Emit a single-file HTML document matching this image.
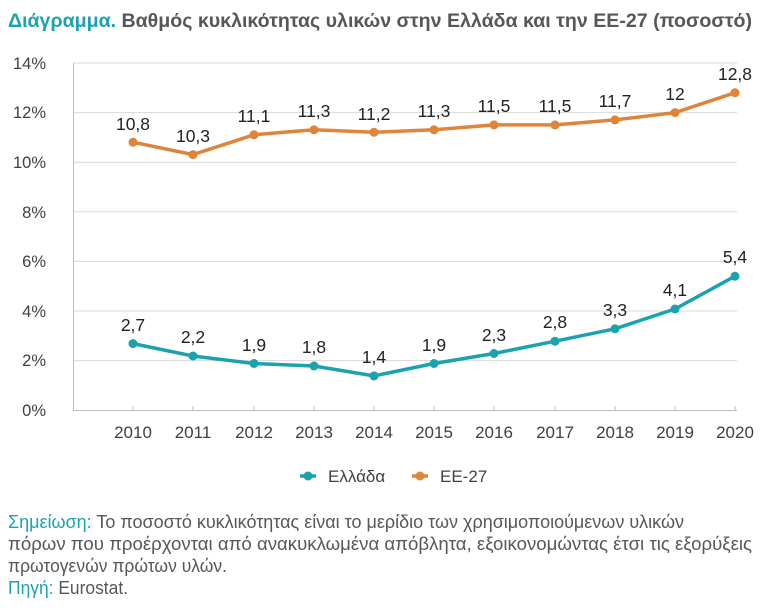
<!DOCTYPE html>
<html><head><meta charset="utf-8"><style>
body{margin:0;width:768px;height:611px;background:#fff;font-family:"Liberation Sans","DejaVu Sans",sans-serif;overflow:hidden}
</style></head><body>
<svg width="768" height="611" xmlns="http://www.w3.org/2000/svg" font-family="Liberation Sans, DejaVu Sans, sans-serif">
<text x="8" y="27" font-size="19" font-weight="bold" fill="#55575a" textLength="744" lengthAdjust="spacingAndGlyphs"><tspan fill="#1ba3af">Διάγραμμα.</tspan> Βαθμός κυκλικότητας υλικών στην Ελλάδα και την ΕΕ-27 (ποσοστό)</text>
<g stroke="#d9d9d9" stroke-width="1">
<line x1="73" y1="63" x2="737" y2="63"/><line x1="73" y1="112.6" x2="737" y2="112.6"/>
<line x1="73" y1="162.2" x2="737" y2="162.2"/><line x1="73" y1="211.8" x2="737" y2="211.8"/>
<line x1="73" y1="261.4" x2="737" y2="261.4"/><line x1="73" y1="311" x2="737" y2="311"/>
<line x1="73" y1="360.6" x2="737" y2="360.6"/>
</g>
<g stroke="#bfbfbf" stroke-width="1"><line x1="73.5" y1="63" x2="73.5" y2="410.5"/><line x1="73" y1="410.5" x2="737" y2="410.5"/>
<line x1="133" y1="406" x2="133" y2="410"/><line x1="193" y1="406" x2="193" y2="410"/><line x1="254" y1="406" x2="254" y2="410"/><line x1="314" y1="406" x2="314" y2="410"/><line x1="374" y1="406" x2="374" y2="410"/><line x1="434" y1="406" x2="434" y2="410"/><line x1="494" y1="406" x2="494" y2="410"/><line x1="555" y1="406" x2="555" y2="410"/><line x1="615" y1="406" x2="615" y2="410"/><line x1="675" y1="406" x2="675" y2="410"/><line x1="735" y1="406" x2="735" y2="410"/></g>
<g font-size="16.5" fill="#404040" text-anchor="end">
<text x="46" y="69">14%</text><text x="46" y="118">12%</text><text x="46" y="168">10%</text><text x="46" y="218">8%</text><text x="46" y="267">6%</text><text x="46" y="317">4%</text><text x="46" y="366">2%</text><text x="46" y="416">0%</text>
</g>
<g font-size="17" fill="#404040" text-anchor="middle">
<text x="133" y="438">2010</text><text x="193" y="438">2011</text><text x="254" y="438">2012</text><text x="314" y="438">2013</text><text x="374" y="438">2014</text><text x="434" y="438">2015</text><text x="494" y="438">2016</text><text x="555" y="438">2017</text><text x="615" y="438">2018</text><text x="675" y="438">2019</text><text x="735" y="438">2020</text>
</g>
<polyline fill="none" stroke="#e0843a" stroke-width="3.5" stroke-linejoin="round" points="133,142.2 193,154.6 254,134.8 314,129.8 374,132.3 434,129.8 494,124.9 555,124.9 615,119.9 675,112.6 735,92.7"/>
<g fill="#e0843a"><circle cx="133" cy="142.2" r="4.5"/><circle cx="193" cy="154.6" r="4.5"/><circle cx="254" cy="134.8" r="4.5"/><circle cx="314" cy="129.8" r="4.5"/><circle cx="374" cy="132.3" r="4.5"/><circle cx="434" cy="129.8" r="4.5"/><circle cx="494" cy="124.9" r="4.5"/><circle cx="555" cy="124.9" r="4.5"/><circle cx="615" cy="119.9" r="4.5"/><circle cx="675" cy="112.6" r="4.5"/><circle cx="735" cy="92.7" r="4.5"/></g>
<polyline fill="none" stroke="#1aa3ad" stroke-width="3.5" stroke-linejoin="round" points="133,343.6 193,356 254,363.5 314,366 374,375.9 434,363.5 494,353.5 555,341.2 615,328.8 675,309 735,276.2"/>
<g fill="#1aa3ad"><circle cx="133" cy="343.6" r="4.5"/><circle cx="193" cy="356" r="4.5"/><circle cx="254" cy="363.5" r="4.5"/><circle cx="314" cy="366" r="4.5"/><circle cx="374" cy="375.9" r="4.5"/><circle cx="434" cy="363.5" r="4.5"/><circle cx="494" cy="353.5" r="4.5"/><circle cx="555" cy="341.2" r="4.5"/><circle cx="615" cy="328.8" r="4.5"/><circle cx="675" cy="309" r="4.5"/><circle cx="735" cy="276.2" r="4.5"/></g>
<g font-size="17.5" fill="#222" text-anchor="middle">
<text x="133" y="130">10,8</text><text x="193" y="142">10,3</text><text x="254" y="122">11,1</text><text x="314" y="117">11,3</text><text x="374" y="120">11,2</text><text x="434" y="117">11,3</text><text x="494" y="112">11,5</text><text x="555" y="112">11,5</text><text x="615" y="107">11,7</text><text x="675" y="100">12</text><text x="735" y="80">12,8</text>
<text x="133" y="331">2,7</text><text x="193" y="343">2,2</text><text x="254" y="351">1,9</text><text x="314" y="353">1,8</text><text x="374" y="363">1,4</text><text x="434" y="351">1,9</text><text x="494" y="341">2,3</text><text x="555" y="328">2,8</text><text x="615" y="316">3,3</text><text x="675" y="296">4,1</text><text x="735" y="263">5,4</text>
</g>
<line x1="300" y1="476" x2="316" y2="476" stroke="#1aa3ad" stroke-width="3.5"/><circle cx="308" cy="476" r="4.5" fill="#1aa3ad"/>
<text x="328" y="482" font-size="17" fill="#404040">Ελλάδα</text>
<line x1="412" y1="476" x2="428" y2="476" stroke="#e0843a" stroke-width="3.5"/><circle cx="420" cy="476" r="4.5" fill="#e0843a"/>
<text x="440" y="482" font-size="17" fill="#404040">ΕΕ-27</text>
<g font-size="18" fill="#55575a">
<text x="8" y="528" textLength="676" lengthAdjust="spacingAndGlyphs"><tspan fill="#1ba3af">Σημείωση:</tspan> Το ποσοστό κυκλικότητας είναι το μερίδιο των χρησιμοποιούμενων υλικών</text>
<text x="8" y="550" textLength="744" lengthAdjust="spacingAndGlyphs">πόρων που προέρχονται από ανακυκλωμένα απόβλητα, εξοικονομώντας έτσι τις εξορύξεις</text>
<text x="8" y="572" textLength="219" lengthAdjust="spacingAndGlyphs">πρωτογενών πρώτων υλών.</text>
<text x="8" y="594" textLength="120" lengthAdjust="spacingAndGlyphs"><tspan fill="#1ba3af">Πηγή:</tspan> Eurostat.</text>
</g>
</svg>
</body></html>
